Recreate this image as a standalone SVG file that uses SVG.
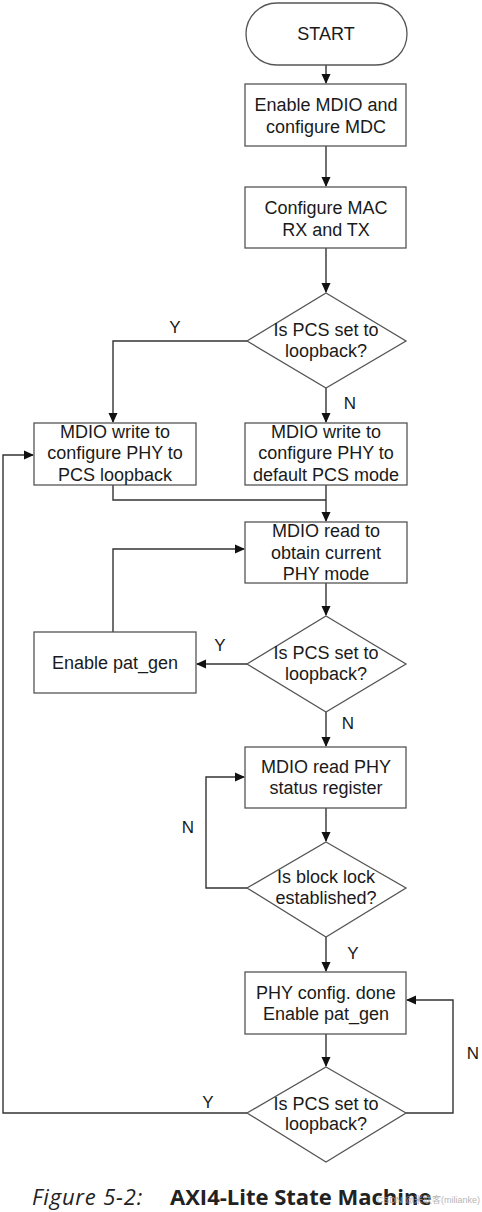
<svg xmlns="http://www.w3.org/2000/svg" width="482" height="1212" viewBox="0 0 482 1212">
<style>
.n{fill:#fff;stroke:#555;stroke-width:1.3}
.t{font-family:"Liberation Sans",Arial,sans-serif;font-size:18px;fill:#1a1a1a;text-anchor:middle}
.l{font-family:"Liberation Sans",Arial,sans-serif;font-size:17px;fill:#1a1a1a;text-anchor:middle}
.c{fill:none;stroke:#333;stroke-width:1.4}
</style>
<defs>
<marker id="a" markerWidth="10" markerHeight="10" refX="9" refY="5" orient="auto" markerUnits="userSpaceOnUse">
<path d="M0,0.5 L10,5 L0,9.5 z" fill="#111"/>
</marker>
</defs>
<rect width="482" height="1212" fill="#fff"/>
<g id="connectors">
<path class="c" d="M326,65 V83" marker-end="url(#a)"/>
<path class="c" d="M326,146 V186" marker-end="url(#a)"/>
<path class="c" d="M326,248 V292" marker-end="url(#a)"/>
<path class="c" d="M247,341 H113 V422" marker-end="url(#a)"/>
<path class="c" d="M326,388 V422" marker-end="url(#a)"/>
<path class="c" d="M113,485 V500 H326"/>
<path class="c" d="M326,485 V521" marker-end="url(#a)"/>
<path class="c" d="M326,583 V615" marker-end="url(#a)"/>
<path class="c" d="M247,664 H197" marker-end="url(#a)"/>
<path class="c" d="M113,632 V549 H244" marker-end="url(#a)"/>
<path class="c" d="M326,712 V746" marker-end="url(#a)"/>
<path class="c" d="M326,808 V841" marker-end="url(#a)"/>
<path class="c" d="M247,888 H206 V777 H244" marker-end="url(#a)"/>
<path class="c" d="M326,937 V971" marker-end="url(#a)"/>
<path class="c" d="M326,1034 V1066" marker-end="url(#a)"/>
<path class="c" d="M247,1113 H3 V455 H33" marker-end="url(#a)"/>
<path class="c" d="M406,1113 H453 V1000 H407" marker-end="url(#a)"/>
<text class="l" x="175" y="333">Y</text>
<text class="l" x="350" y="409">N</text>
<text class="l" x="220" y="651">Y</text>
<text class="l" x="348" y="729">N</text>
<text class="l" x="188" y="833">N</text>
<text class="l" x="353" y="959">Y</text>
<text class="l" x="208" y="1108">Y</text>
<text class="l" x="473" y="1059">N</text>
</g>
<g id="start">
<rect class="n" x="246" y="3" width="161" height="62" rx="31" ry="31"/>
<text class="t" x="326" y="40">START</text>
</g>
<g id="enable-mdio">
<rect class="n" x="245" y="84" width="161" height="62"/>
<text class="t" x="326" y="111">Enable MDIO and</text>
<text class="t" x="326" y="133">configure MDC</text>
</g>
<g id="configure-mac">
<rect class="n" x="245" y="187" width="161" height="61"/>
<text class="t" x="326" y="214">Configure MAC</text>
<text class="t" x="326" y="236">RX and TX</text>
</g>
<g id="decision1">
<polygon class="n" points="326,293 406,341 326,388 247,341"/>
<text class="t" x="326" y="336">Is PCS set to</text>
<text class="t" x="326" y="357">loopback?</text>
</g>
<g id="write-loopback">
<rect class="n" x="34" y="423" width="162" height="62"/>
<text class="t" x="115" y="438">MDIO write to</text>
<text class="t" x="115" y="459">configure PHY to</text>
<text class="t" x="115" y="481">PCS loopback</text>
</g>
<g id="write-default">
<rect class="n" x="245" y="423" width="162" height="62"/>
<text class="t" x="326" y="438">MDIO write to</text>
<text class="t" x="326" y="459">configure PHY to</text>
<text class="t" x="326" y="481">default PCS mode</text>
</g>
<g id="read-mode">
<rect class="n" x="245" y="522" width="162" height="61"/>
<text class="t" x="326" y="537">MDIO read to</text>
<text class="t" x="326" y="559">obtain current</text>
<text class="t" x="326" y="580">PHY mode</text>
</g>
<g id="decision2">
<polygon class="n" points="326,616 406,664 326,712 247,664"/>
<text class="t" x="326" y="659">Is PCS set to</text>
<text class="t" x="326" y="680">loopback?</text>
</g>
<g id="enable-patgen">
<rect class="n" x="34" y="632" width="162" height="61"/>
<text class="t" x="115" y="669">Enable pat_gen</text>
</g>
<g id="read-status">
<rect class="n" x="245" y="747" width="161" height="61"/>
<text class="t" x="326" y="773">MDIO read PHY</text>
<text class="t" x="326" y="794">status register</text>
</g>
<g id="decision3">
<polygon class="n" points="326,842 406,888 326,937 247,888"/>
<text class="t" x="326" y="883">Is block lock</text>
<text class="t" x="326" y="904">established?</text>
</g>
<g id="config-done">
<rect class="n" x="245" y="972" width="161" height="62"/>
<text class="t" x="326" y="999">PHY config. done</text>
<text class="t" x="326" y="1020">Enable pat_gen</text>
</g>
<g id="decision4">
<polygon class="n" points="326,1067 406,1113 326,1162 247,1113"/>
<text class="t" x="326" y="1110">Is PCS set to</text>
<text class="t" x="326" y="1130">loopback?</text>
</g>
<g id="caption">
<text x="32" y="1205" font-family="'Open Sans','Liberation Sans',sans-serif" font-style="italic" font-size="22" letter-spacing="0.8" fill="#222">Figure 5-2:</text>
<text x="170" y="1205" font-family="'Open Sans','Liberation Sans',sans-serif" font-weight="bold" font-size="22" fill="#222">AXI4-Lite State Machine</text>
<text x="480" y="1203" text-anchor="end" font-family="'Liberation Sans','Noto Sans CJK SC',sans-serif" font-size="9" fill="#aaa" opacity="0.85">CSDN @米联客(milianke)</text>
</g>
</svg>
